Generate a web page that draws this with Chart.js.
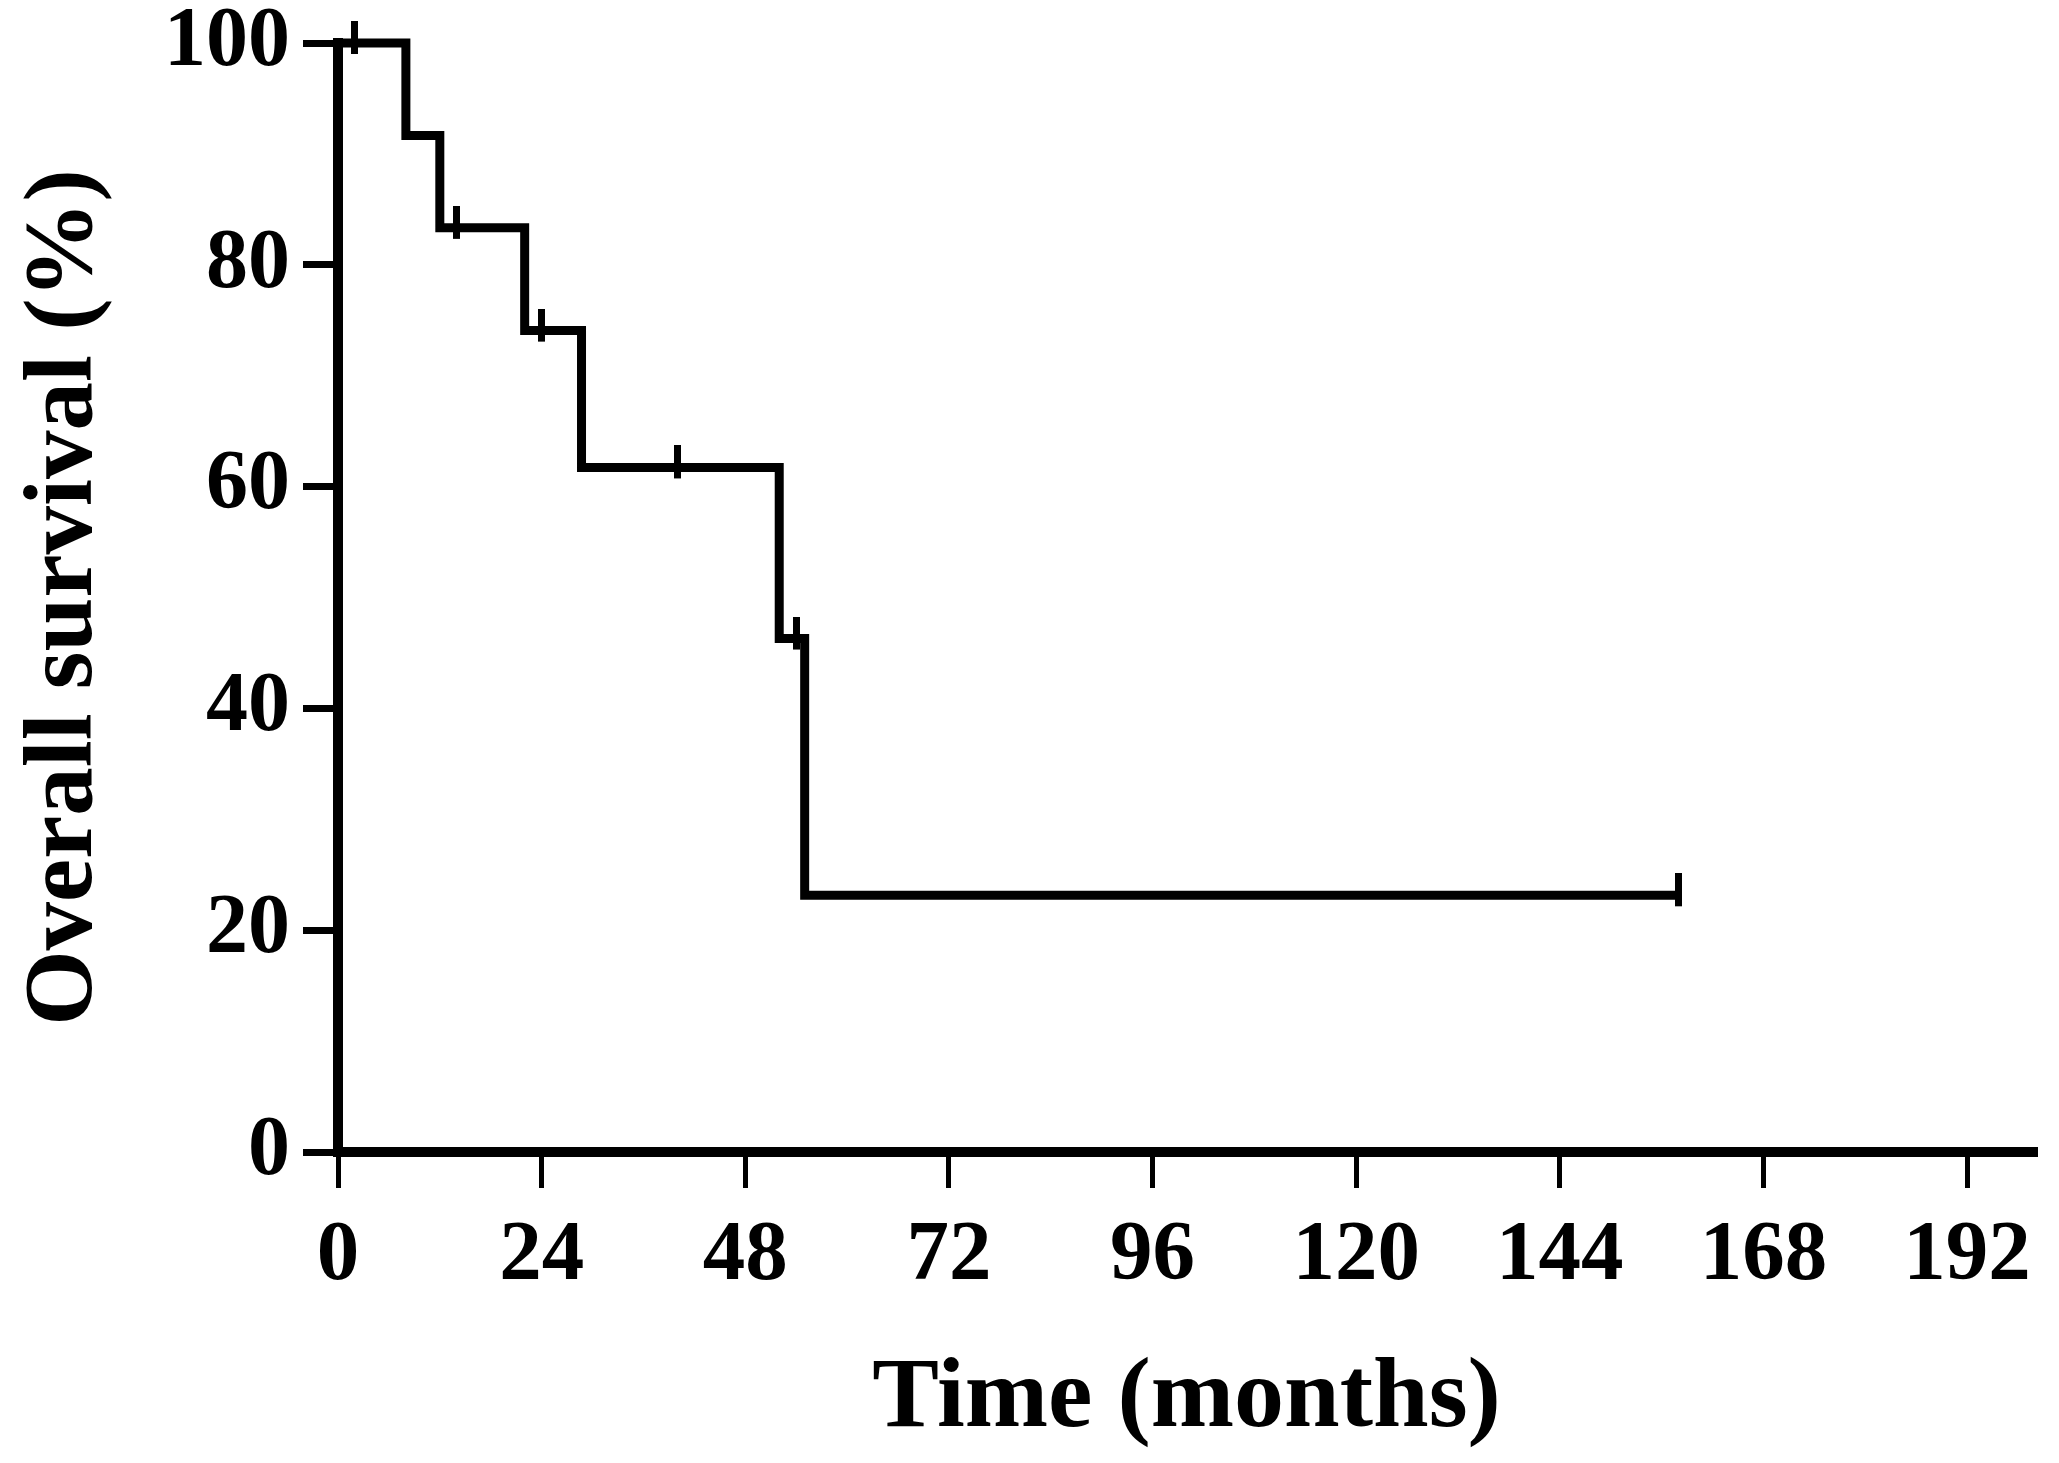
<!DOCTYPE html>
<html>
<head>
<meta charset="utf-8">
<script src="https://cdn.jsdelivr.net/npm/chart.js@4.4.1/dist/chart.umd.min.js"></script>
<style>
html, body { margin: 0; padding: 0; background: #fff; }
#wrap { width: 2059px; height: 1463px; }
</style>
</head>
<body>
<div id="wrap"><canvas id="km" width="2059" height="1463"></canvas></div>
<script>
// Kaplan-Meier steps (month of event, survival % after it)
const stepMonths = [0, 8, 12, 22, 28.7, 52, 55, 158];
const stepSurvival = [100, 91.67, 83.33, 74.07, 61.73, 46.3, 23.15, 23.15];
// censored patients
const censorMonths = [2, 14, 24, 40, 54, 158];
const censorSurvival = [100, 83.33, 74.07, 61.73, 46.3, 23.15];
const xTickValues = [0, 24, 48, 72, 96, 120, 144, 168, 192];
const yTickValues = [0, 20, 40, 60, 80, 100];

// censor tick: short vertical bar sitting mostly above the curve
const censorMark = document.createElement('canvas');
censorMark.width = 7;
censorMark.height = 44;
const cm = censorMark.getContext('2d');
cm.fillStyle = '#000';
cm.fillRect(0, 0, 7, 33);

const ctx = document.getElementById('km');

new Chart(ctx, {
  type: 'line',
  data: {
    datasets: [{
      label: 'Overall survival',
      data: stepMonths.map((m, i) => ({ x: m, y: stepSurvival[i] })),
      stepped: true,
      borderColor: '#000',
      borderWidth: 9,
      pointRadius: 0,
      fill: false,
      clip: false
    }, {
      label: 'Censored',
      data: censorMonths.map((m, i) => ({ x: m, y: censorSurvival[i] })),
      showLine: false,
      pointStyle: censorMark,
      pointRadius: 16,
      clip: false
    }]
  },
  options: {
    responsive: false,
    animation: false,
    layout: { padding: { top: 43, right: 24, left: 0, bottom: 0 } },
    plugins: {
      legend: { display: false },
      tooltip: { enabled: false }
    },
    scales: {
      x: {
        type: 'linear',
        min: 0,
        max: 200,
        afterBuildTicks: s => { s.ticks = xTickValues.map(v => ({ value: v })); },
        afterFit: s => { s.height = 311; },
        grid: { drawOnChartArea: false, color: '#000', lineWidth: 5, tickLength: 36 },
        border: { color: '#000', width: 10 },
        ticks: {
          color: '#000',
          padding: 18,
          maxRotation: 0,
          autoSkip: false,
          font: { family: 'Liberation Serif', size: 85, weight: 'bold' }
        },
        title: {
          display: true,
          text: 'Time (months)',
          color: '#000',
          font: { family: 'Liberation Serif', size: 100, weight: 'bold', lineHeight: 1 },
          padding: { top: 0, bottom: 13 }
        }
      },
      y: {
        min: 0,
        max: 100,
        afterBuildTicks: s => { s.ticks = yTickValues.map(v => ({ value: v })); },
        afterFit: s => { s.width = 338; s.paddingTop = 0; s.paddingBottom = 0; },
        grid: { drawOnChartArea: false, color: '#000', lineWidth: 7, tickLength: 35 },
        border: { color: '#000', width: 10 },
        ticks: {
          color: '#000',
          padding: 13,
          font: { family: 'Liberation Serif', size: 84, weight: 'bold', lineHeight: 1 }
        },
        title: {
          display: true,
          text: 'Overall survival (%)',
          color: '#000',
          font: { family: 'Liberation Serif', size: 97, weight: 'bold', lineHeight: 1 },
          padding: { top: 17, bottom: 0 }
        }
      }
    }
  }
});
</script>
</body>
</html>
